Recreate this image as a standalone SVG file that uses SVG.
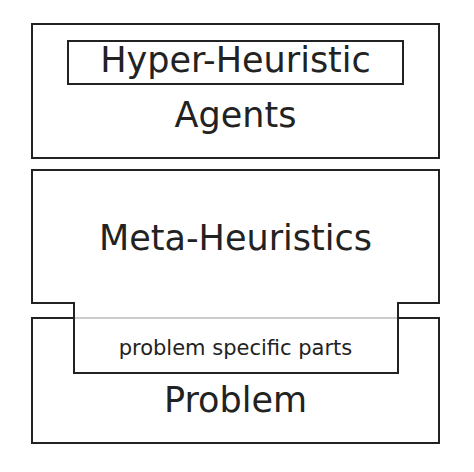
<svg xmlns="http://www.w3.org/2000/svg" width="474" height="472" viewBox="0 0 474 472">
<style>
.s{fill:none;stroke:#222;stroke-width:2}
.t{font-family:"DejaVu Sans",sans-serif;fill:#222;text-anchor:middle}
.L{font-size:35px}
.S{font-size:21px}
</style>
<rect width="474" height="472" fill="#fff"/>
<g id="agents">
<rect class="s" x="32" y="24" width="407" height="134"/>
<rect class="s" x="68" y="41" width="335" height="43"/>
<text class="t L" x="235.5" y="72">Hyper-Heuristic</text>
<text class="t L" x="235.5" y="127">Agents</text>
</g>
<g id="problem">
<path class="s" d="M74,318 H32 V443 H439 V318 H398"/>
<line x1="74" y1="318" x2="398" y2="318" stroke="#ccc" stroke-width="2"/>
<text class="t L" x="235.5" y="412">Problem</text>
</g>
<g id="meta">
<path class="s" d="M32,170 H439 V303 H398 V373 H74 V303 H32 Z"/>
<text class="t L" x="235.5" y="250">Meta-Heuristics</text>
<text class="t S" x="235.5" y="355">problem specific parts</text>
</g>
<g id="connectors"/>
</svg>
